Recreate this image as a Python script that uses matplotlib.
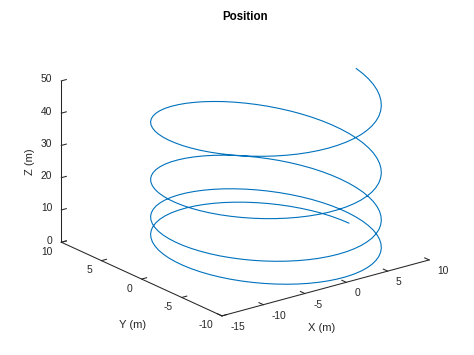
import numpy as np
import matplotlib
matplotlib.use('Agg')
import matplotlib.pyplot as plt
from matplotlib.transforms import IdentityTransform
from mpl_toolkits.mplot3d import proj3d

# ---- data (helix of radius 10, 4 turns, 64 samples/turn) ----
turn_x = [10.00, 9.95, 9.81, 9.57, 9.24, 8.82, 8.31, 7.73,
          7.07, 6.34, 5.56, 4.71, 3.83, 2.90, 1.95, 0.98,
          0.00, -0.98, -1.95, -2.90, -3.83, -4.71, -5.56, -6.34,
          -7.07, -7.73, -8.31, -8.82, -9.24, -9.57, -9.81, -9.95,
          -10.00, -9.95, -9.81, -9.57, -9.24, -8.82, -8.31, -7.73,
          -7.07, -6.34, -5.56, -4.71, -3.83, -2.90, -1.95, -0.98,
          0.00, 0.98, 1.95, 2.90, 3.83, 4.71, 5.56, 6.34,
          7.07, 7.73, 8.31, 8.82, 9.24, 9.57, 9.81, 9.95]
turn_y = [0.00, 0.98, 1.95, 2.90, 3.83, 4.71, 5.56, 6.34,
          7.07, 7.73, 8.31, 8.82, 9.24, 9.57, 9.81, 9.95,
          10.00, 9.95, 9.81, 9.57, 9.24, 8.82, 8.31, 7.73,
          7.07, 6.34, 5.56, 4.71, 3.83, 2.90, 1.95, 0.98,
          0.00, -0.98, -1.95, -2.90, -3.83, -4.71, -5.56, -6.34,
          -7.07, -7.73, -8.31, -8.82, -9.24, -9.57, -9.81, -9.95,
          -10.00, -9.95, -9.81, -9.57, -9.24, -8.82, -8.31, -7.73,
          -7.07, -6.34, -5.56, -4.71, -3.83, -2.90, -1.95, -0.98]
z_pos = [0.00, 0.00, 0.00, 0.01, 0.01, 0.02, 0.03, 0.04,
         0.05, 0.06, 0.08, 0.09, 0.11, 0.13, 0.15, 0.17,
         0.19, 0.22, 0.24, 0.27, 0.30, 0.33, 0.37, 0.40,
         0.44, 0.47, 0.51, 0.55, 0.59, 0.63, 0.68, 0.72,
         0.77, 0.82, 0.87, 0.92, 0.98, 1.03, 1.09, 1.15,
         1.21, 1.27, 1.33, 1.39, 1.46, 1.53, 1.60, 1.67,
         1.74, 1.81, 1.89, 1.96, 2.04, 2.12, 2.20, 2.28,
         2.37, 2.45, 2.54, 2.63, 2.72, 2.81, 2.90, 2.99,
         3.09, 3.19, 3.29, 3.39, 3.49, 3.59, 3.70, 3.80,
         3.91, 4.02, 4.13, 4.24, 4.36, 4.47, 4.59, 4.71,
         4.83, 4.95, 5.07, 5.20, 5.32, 5.45, 5.58, 5.71,
         5.84, 5.98, 6.11, 6.25, 6.39, 6.52, 6.67, 6.81,
         6.95, 7.10, 7.25, 7.39, 7.54, 7.70, 7.85, 8.00,
         8.16, 8.32, 8.48, 8.64, 8.80, 8.96, 9.13, 9.29,
         9.46, 9.63, 9.80, 9.98, 10.15, 10.33, 10.50, 10.68,
         10.86, 11.05, 11.23, 11.41, 11.60, 11.79, 11.98, 12.17,
         12.36, 12.55, 12.75, 12.95, 13.15, 13.34, 13.55, 13.75,
         13.95, 14.16, 14.37, 14.58, 14.79, 15.00, 15.21, 15.43,
         15.64, 15.86, 16.08, 16.30, 16.52, 16.75, 16.97, 17.20,
         17.43, 17.66, 17.89, 18.12, 18.36, 18.60, 18.83, 19.07,
         19.31, 19.55, 19.80, 20.04, 20.29, 20.54, 20.79, 21.04,
         21.29, 21.55, 21.80, 22.06, 22.32, 22.58, 22.84, 23.10,
         23.37, 23.63, 23.90, 24.17, 24.44, 24.71, 24.99, 25.26,
         25.54, 25.82, 26.10, 26.38, 26.66, 26.95, 27.23, 27.52,
         27.81, 28.10, 28.39, 28.69, 28.98, 29.28, 29.58, 29.87,
         30.18, 30.48, 30.78, 31.09, 31.40, 31.70, 32.01, 32.32,
         32.64, 32.95, 33.27, 33.59, 33.91, 34.23, 34.55, 34.87,
         35.20, 35.52, 35.85, 36.18, 36.51, 36.85, 37.18, 37.52,
         37.85, 38.19, 38.53, 38.87, 39.22, 39.56, 39.91, 40.26,
         40.61, 40.96, 41.31, 41.66, 42.02, 42.37, 42.73, 43.09,
         43.45, 43.82, 44.18, 44.55, 44.91, 45.28, 45.65, 46.02,
         46.40, 46.77, 47.15, 47.53, 47.91, 48.29, 48.67, 49.05]
n_turns = 4

x_ticks = [-15, -10, -5, 0, 5, 10]
y_ticks = [-10, -5, 0, 5, 10]
z_ticks = [0, 10, 20, 30, 40, 50]
x_lim = (-15, 10)
y_lim = (-10, 10)
z_lim = (0, 50)

title = 'Position'
x_label, y_label, z_label = 'X (m)', 'Y (m)', 'Z (m)'

# ---- style ----
W, H = 474, 355
LINE_C = '#0072BD'
AX_C = '#262626'
plt.rcParams['font.family'] = ['Liberation Sans', 'DejaVu Sans']

fig = plt.figure(figsize=(W / 100, H / 100), dpi=100)
fig.patch.set_facecolor('white')
ax = fig.add_axes([0, 0, 1, 1], projection='3d')
ax.set_proj_type('ortho')
ax.view_init(elev=20.6, azim=-127.5)
ax.set_box_aspect((1, 1.01, 0.66))
ax.set_xlim(*x_lim)
ax.set_ylim(*y_lim)
ax.set_zlim(*z_lim)
ax.set_axis_off()

xs = np.tile(turn_x, n_turns)
ys = np.tile(turn_y, n_turns)
zs = np.asarray(z_pos)
ax.plot(xs, ys, zs, color=LINE_C, lw=0.8, solid_joinstyle='round')

x0, x1 = x_lim
y0, y1 = y_lim
z0, z1 = z_lim
# axis lines (MATLAB-style, box off)
ax.plot([x0, x1], [y0, y0], [z0, z0], color=AX_C, lw=0.75)
ax.plot([x0, x0], [y0, y1], [z0, z0], color=AX_C, lw=0.75)
ax.plot([x0, x0], [y1, y1], [z0, z1], color=AX_C, lw=0.75)
tl_x = 0.6
tl_y = 0.55
for t in x_ticks:
    ax.plot([t, t], [y0, y0 + tl_y], [z0, z0], color=AX_C, lw=0.75)
for t in y_ticks:
    ax.plot([x0, x0 + tl_x], [t, t], [z0, z0], color=AX_C, lw=0.75)
for t in z_ticks:
    ax.plot([x0, x0 + tl_x], [y1, y1], [t, t], color=AX_C, lw=0.75)


def to_px(x, y, z):
    px, py, _ = proj3d.proj_transform(np.atleast_1d(x), np.atleast_1d(y),
                                      np.atleast_1d(z), ax.M)
    return ax.transData.transform(np.column_stack([px, py]))


# calibrate axes placement so the box lands where it is in the reference
targets = [((x0, y0, z0), (221.7, H - 316.0)),
           ((x0, y1, z1), (61.7, H - 80.7)),
           ((x1, y0, z0), (429.0, H - 260.0))]
for _ in range(3):
    fig.canvas.draw()
    bb = ax.get_position(original=False)
    S = bb.width * W
    C = np.array([(bb.x0 + bb.width / 2) * W, (bb.y0 + bb.height / 2) * H])
    P = np.array([to_px(*p)[0] for p, _ in targets])
    T = np.array([t for _, t in targets])
    dP = P[1:] - P[0]
    dT = T[1:] - T[0]
    s = np.sum(dP * dT) / np.sum(dP * dP)
    newS = S * s
    newC = T.mean(axis=0) - s * (P.mean(axis=0) - C)
    ax.set_position([(newC[0] - newS / 2) / W, (newC[1] - newS / 2) / H,
                     newS / W, newS / H])
fig.canvas.draw()

fs_tick = 7.4
fs_lab = 8.0
px_tr = IdentityTransform()
for t in x_ticks:
    p = to_px(t, y0, z0)[0]
    fig.text(p[0] + 8.3, p[1] - 11, f'{t}', transform=px_tr, ha='left',
             va='center', fontsize=fs_tick, color=AX_C)
for t in y_ticks:
    p = to_px(x0, t, z0)[0]
    fig.text(p[0] - 9, p[1] - 9.5, f'{t}', transform=px_tr, ha='right',
             va='center', fontsize=fs_tick, color=AX_C)
for t in z_ticks:
    p = to_px(x0, y1, t)[0]
    fig.text(p[0] - 9, p[1] + 1.5, f'{t}', transform=px_tr, ha='right',
             va='center', fontsize=fs_tick, color=AX_C)

fig.text(321.7 / W, 1 - 328 / H, x_label, ha='center', va='center',
         fontsize=fs_lab, color=AX_C)
fig.text(132.7 / W, 1 - 325 / H, y_label, ha='center', va='center',
         fontsize=fs_lab, color=AX_C)
fig.text(30 / W, 1 - 161.7 / H, z_label, ha='center', va='center',
         rotation=90, fontsize=fs_lab, color=AX_C)
fig.text(245 / W, 1 - 16.7 / H, title, ha='center', va='center',
         fontsize=8.3, fontweight='bold', color='black')

fig.savefig('out.png', dpi=100)
